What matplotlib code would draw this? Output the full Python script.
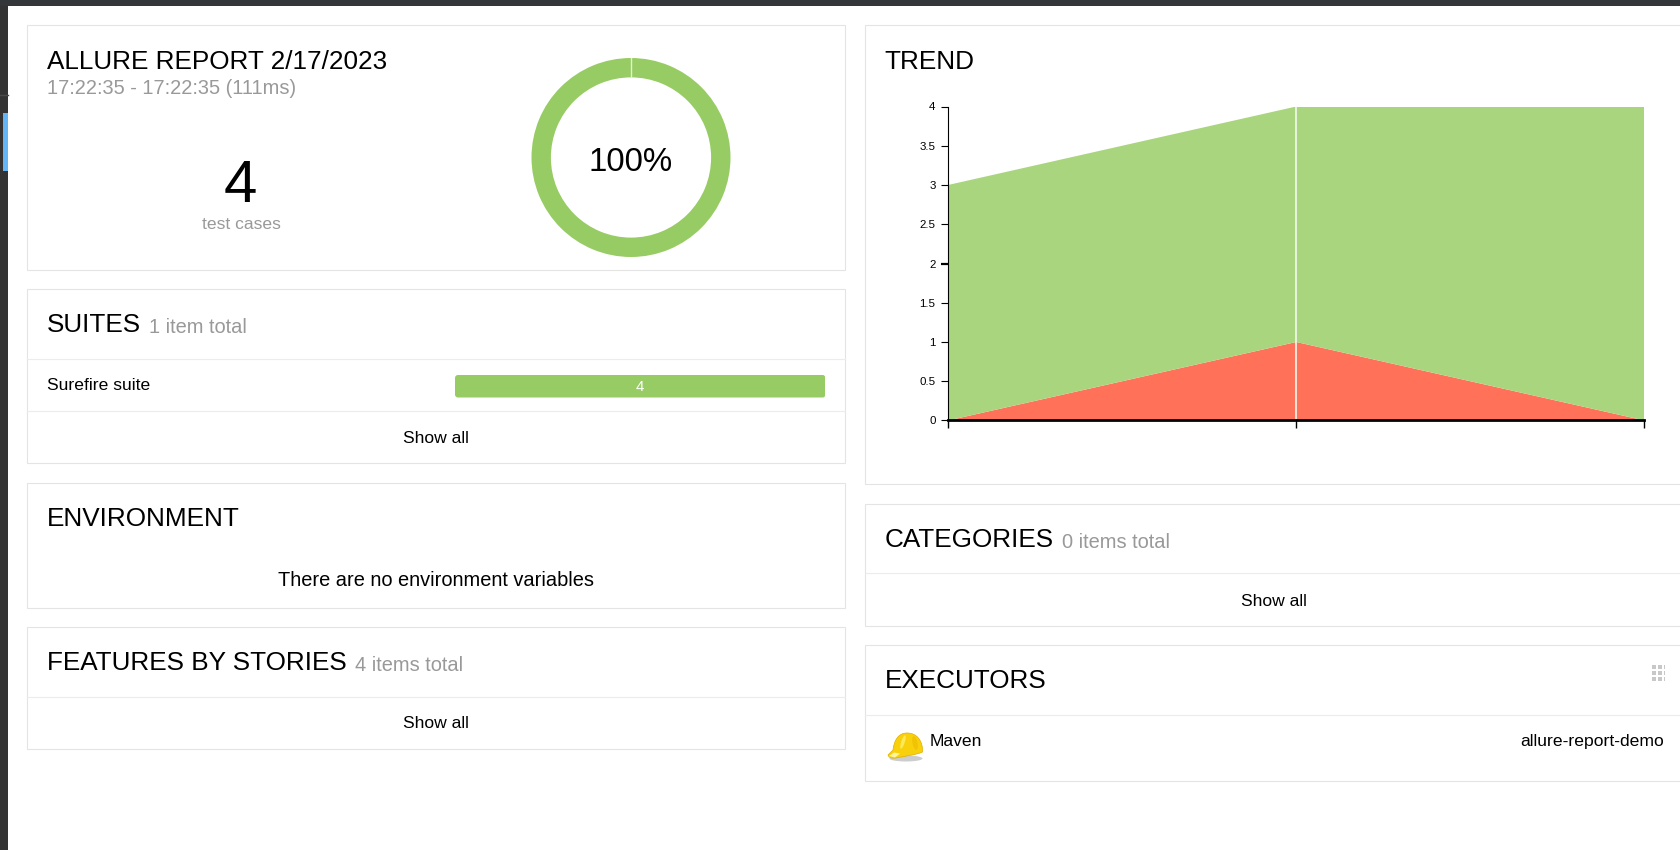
import matplotlib
matplotlib.use('Agg')
import matplotlib.pyplot as plt
from matplotlib.patches import Rectangle, FancyBboxPatch, Polygon, Ellipse, PathPatch
from matplotlib.path import Path

W, H = 1681, 850
plt.rcParams['font.family'] = ['Liberation Sans', 'DejaVu Sans']

# trend chart values
trend_builds = [0, 1, 2]
trend_failed = [0, 1, 0]
trend_passed = [3, 3, 4]
trend_yticks = [0, 0.5, 1, 1.5, 2, 2.5, 3, 3.5, 4]
trend_ylabels = ['0', '0.5', '1', '1.5', '2', '2.5', '3', '3.5', '4']

# summary values
total_cases = 4
status_share = [100]
suite_name = 'Surefire suite'
suite_passed = [4]

GREEN = '#97cc64'
AREA_GREEN = '#aad57f'
AREA_RED = '#ff7159'
BORDER = '#e4e4e4'
GRAY = '#999999'


def px(size):
    # font size in css pixels -> points at 100 dpi
    return size * 0.72


def add_axes_px(fig, x0, y0, x1, y1):
    return fig.add_axes([x0 / W, 1 - y1 / H, (x1 - x0) / W, (y1 - y0) / H])


def card(ax, x0, y0, x1, y1, dividers=()):
    ax.add_patch(Rectangle((x0, y0), x1 - x0, y1 - y0, fc='white', ec=BORDER, lw=0.8))
    for d in dividers:
        ax.plot([x0, x1], [d, d], color='#ececec', lw=0.8)


def title(ax, x, y, txt, sub=None, sub_x=None):
    ax.text(x, y, txt, fontsize=px(26.1), color='black', va='baseline')
    if sub:
        ax.text(sub_x, y + 1, sub, fontsize=px(20), color=GRAY, va='baseline')


def hard_hat(ax):
    ax.add_patch(Ellipse((906, 758.5), 33, 6, fc='#bdbdbd', ec='none', alpha=0.75))
    dome = Path([(888, 755), (893, 750),
                 (894, 741), (898, 733), (907, 733),
                 (917, 733), (923, 741), (922.5, 752),
                 (916, 755), (905, 756), (896, 758),
                 (892, 758.5), (889, 758), (888, 755)],
                [Path.MOVETO, Path.LINETO,
                 Path.CURVE4, Path.CURVE4, Path.CURVE4,
                 Path.CURVE4, Path.CURVE4, Path.CURVE4,
                 Path.CURVE4, Path.CURVE4, Path.CURVE4,
                 Path.CURVE4, Path.CURVE4, Path.CURVE4])
    ax.add_patch(PathPatch(dome, fc='#f8d10c', ec='#e0ae00', lw=0.5))
    ax.add_patch(Polygon([(889, 756), (894, 752.5), (900, 753.5), (895, 757.5)], fc='#fff2a0', ec='none'))
    ax.add_patch(Ellipse((903, 742), 3.5, 14, angle=18, fc='#ffe95a', ec='none'))
    ax.add_patch(Ellipse((915, 743), 5, 14, angle=-12, fc='#eeb800', ec='none', alpha=0.6))


fig = plt.figure(figsize=(W / 100, H / 100), dpi=100)
bg = fig.add_axes([0, 0, 1, 1])
bg.set_xlim(0, W)
bg.set_ylim(H, 0)
bg.axis('off')

# window chrome
bg.add_patch(Rectangle((0, 0), 8, H, fc='#333333', ec='none'))
bg.add_patch(Rectangle((0, 0), W, 5.5, fc='#35363a', ec='none'))
bg.plot([0, 8], [94.5, 94.5], color='#4a4a4a', lw=1)
bg.add_patch(Rectangle((3, 113), 5, 58, fc='#64b5f6', ec='none'))

# left column
card(bg, 27, 25, 845, 270)
bg.text(47, 68.5, 'ALLURE REPORT 2/17/2023', fontsize=px(26.1), va='baseline')
bg.text(47, 93.5, '17:22:35 - 17:22:35 (111ms)', fontsize=px(20), color=GRAY, va='baseline')
bg.text(240, 202, str(total_cases), fontsize=px(60), ha='center', va='baseline')
bg.text(241, 229, 'test cases', fontsize=px(17.5), color=GRAY, ha='center', va='baseline')

card(bg, 27, 289, 845, 463, dividers=[359, 411])
title(bg, 47, 331.8, 'SUITES', '1 item total', 149)
bg.text(47, 390, suite_name, fontsize=px(17.5), va='baseline')
bg.text(436, 443, 'Show all', fontsize=px(17.5), ha='center', va='baseline')

card(bg, 27, 483, 845, 608)
title(bg, 47, 526, 'ENVIRONMENT')
bg.text(436, 586, 'There are no environment variables', fontsize=px(20), ha='center', va='baseline')

card(bg, 27, 627, 845, 749, dividers=[697])
title(bg, 47, 669.8, 'FEATURES BY STORIES', '4 items total', 355)
bg.text(436, 728, 'Show all', fontsize=px(17.5), ha='center', va='baseline')

# right column, cards run off the edge of the screenshot
card(bg, 865, 25, W + 5, 484)
title(bg, 884.5, 68.5, 'TREND')

card(bg, 865, 503.5, W + 5, 626, dividers=[573])
title(bg, 884.5, 547, 'CATEGORIES', '0 items total', 1062)
bg.text(1274, 605.5, 'Show all', fontsize=px(17.5), ha='center', va='baseline')

card(bg, 865, 645, W + 5, 781, dividers=[715])
title(bg, 884.5, 688, 'EXECUTORS')
bg.text(929.5, 746, 'Maven', fontsize=px(17.5), va='baseline')
bg.text(1664, 746, 'allure-report-demo', fontsize=px(17.5), ha='right', va='baseline')
hard_hat(bg)
for gx in (1652, 1658, 1664):
    for gy in (665, 671, 677):
        bg.add_patch(Rectangle((gx, gy), 4 if gx < 1664 else 1.5, 4, fc='#c8c8c8', ec='none'))

# suite bar
bar_ax = add_axes_px(fig, 455, 375, 825.5, 397.5)
bar_ax.set_xlim(0, sum(suite_passed))
bar_ax.set_ylim(0, 1)
bar_ax.axis('off')
bar_ax.add_patch(FancyBboxPatch((0, 0), suite_passed[0], 1,
                                boxstyle='round,pad=0,rounding_size=0.032',
                                mutation_aspect=4.1, fc=GREEN, ec='none'))
bar_ax.text(suite_passed[0] / 2, 0.3, str(suite_passed[0]), color='white', fontsize=px(15),
            ha='center', va='baseline')

# donut
pie_ax = add_axes_px(fig, 531.5, 58, 730.5, 257)
pie_ax.pie(status_share, radius=1, startangle=90, colors=[GREEN], wedgeprops={'width': 0.195})
pie_ax.set_xlim(-1, 1)
pie_ax.set_ylim(-1, 1)
pie_ax.plot([0, 0], [0.805, 1], color='#e3f2d6', lw=1)
pie_ax.text(0, -0.135, '%d%%' % status_share[0], fontsize=px(33), ha='center', va='baseline')

# trend
ax = add_axes_px(fig, 948, 106.5, 1644.5, 420.5)
ax.stackplot(trend_builds, trend_failed, trend_passed, colors=[AREA_RED, AREA_GREEN])
ax.axvline(1, color='#f4f9ee', lw=1.2)
ax.set_xlim(trend_builds[0], trend_builds[-1])
ax.set_ylim(0, 4)
ax.set_facecolor('none')
ax.spines['top'].set_visible(False)
ax.spines['right'].set_visible(False)
ax.spines['left'].set_linewidth(0.8)
ax.spines['bottom'].set_linewidth(2)
ax.set_xticks(trend_builds)
ax.set_xticklabels([])
ax.set_yticks(trend_yticks)
ax.set_yticklabels(trend_ylabels, fontsize=px(11.5))
ax.tick_params(axis='y', length=5.4, width=0.8, pad=3.5)
ax.tick_params(axis='x', length=5.4, width=1)
ax.get_yticklines()[8].set_markeredgewidth(1.6)  # the 2 tick renders heavier

fig.savefig('out.png', dpi=100)
